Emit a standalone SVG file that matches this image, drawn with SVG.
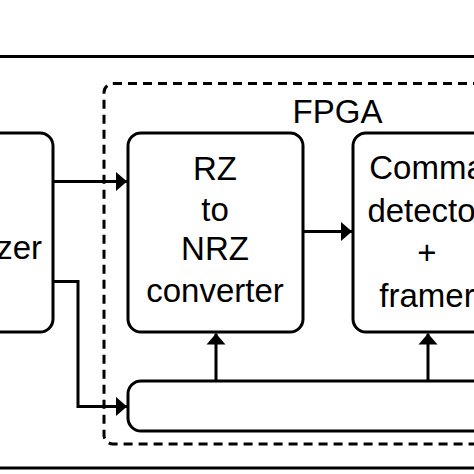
<svg xmlns="http://www.w3.org/2000/svg" width="474" height="474" viewBox="0 0 474 474">
<style>
.box{fill:#fff;stroke:#000;stroke-width:3}
.ln{fill:none;stroke:#000;stroke-width:3}
.dash{fill:none;stroke:#000;stroke-width:3;stroke-dasharray:9 6}
.t{font-family:"Liberation Sans",Arial,sans-serif;font-size:33px;fill:#000;text-anchor:middle}
</style>
<defs>
<marker id="ah" markerUnits="userSpaceOnUse" markerWidth="12" markerHeight="20" refX="11" refY="9.5" orient="auto" viewBox="0 0 12 19">
<path d="M0,0 L11,9.5 L0,19 Z" fill="#000"/>
</marker>
</defs>
<rect width="474" height="474" fill="#fff"/>
<line class="ln" x1="0" y1="56.5" x2="474" y2="56.5"/>
<line class="ln" x1="0" y1="468" x2="474" y2="468"/>
<g id="fpga">
<rect class="dash" x="104" y="83.5" width="420" height="360.5" rx="9"/>
<text class="t" x="337.5" y="123">FPGA</text>
</g>
<g id="left">
<rect class="box" x="-20" y="133" width="73" height="199" rx="13"/>
<text class="t" x="42" y="259" style="text-anchor:end">zer</text>
</g>
<g id="rz">
<rect class="box" x="128" y="133" width="175" height="199" rx="13"/>
<text class="t" x="215" y="180">RZ</text>
<text class="t" x="215" y="220.5">to</text>
<text class="t" x="215" y="260">NRZ</text>
<text class="t" x="215" y="301.5">converter</text>
</g>
<g id="comma">
<rect class="box" x="353" y="133" width="160" height="199" rx="13"/>
<text class="t" x="427" y="178.5">Comma</text>
<text class="t" x="427" y="221.5">detector</text>
<text class="t" x="427" y="264">+</text>
<text class="t" x="427" y="306.5">framer</text>
</g>
<g id="bottom">
<rect class="box" x="128" y="381" width="370" height="50" rx="13"/>
</g>
<g id="connectors">
<path class="ln" d="M53,181.5 H127" marker-end="url(#ah)"/>
<path class="ln" d="M303,231.5 H352" marker-end="url(#ah)"/>
<path class="ln" d="M216,381 V333.5" marker-end="url(#ah)"/>
<path class="ln" d="M428,381 V333.5" marker-end="url(#ah)"/>
<path class="ln" d="M53,281.5 H78 V406.5 H127" marker-end="url(#ah)"/>
</g>
</svg>
